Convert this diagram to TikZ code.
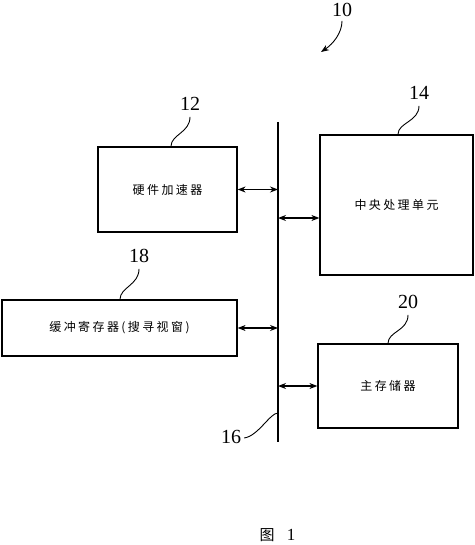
\documentclass[tikz,border=0pt]{standalone}
\usepackage{fontspec}
\setmainfont{Liberation Serif}
\newfontfamily\cjk[LetterSpace=20]{Noto Sans CJK SC}
\newfontfamily\cjkcap{Noto Sans CJK SC}
\usepackage{tikz}
\usetikzlibrary{arrows.meta,positioning}

\begin{document}
\begin{tikzpicture}[
    x=1pt, y=-1pt,
    unit/.style={draw, rectangle, line width=1.2pt, inner sep=0pt, font=\cjk\fontsize{12}{14}\selectfont},
    refnum/.style={inner sep=0pt, font=\fontsize{20}{22}\selectfont},
    leader/.style={line width=0.9pt},
    arrow/.style={{Stealth[length=8pt,width=6pt]}-{Stealth[length=8pt,width=6pt]}, line width=1.2pt},
    bus/.style={line width=1.2pt}
]
    \useasboundingbox (0,0) rectangle (474,545);

    % functional units
    \node[unit, minimum width=139pt, minimum height=85pt] (accel) at (167.5,189.5) {硬件加速器};
    \node[unit, minimum width=153pt, minimum height=140pt] (cpu) at (396.5,205) {中央处理单元};
    \node[unit, minimum width=235pt, minimum height=56pt] (buffer) at (119.5,328) {缓冲寄存器(搜寻视窗)};
    \node[unit, minimum width=140pt, minimum height=84pt] (mem) at (388,386) {主存储器};

    % system bus
    \coordinate (bustop) at (278,122);
    \coordinate (busbot) at (278,442);
    \draw[bus] (bustop) -- (busbot);

    \draw[arrow] (accel.east) -- (accel.east -| bustop);
    \draw[arrow] ([yshift=-13pt]cpu.west -| bustop) -- ([yshift=-13pt]cpu.west);
    \draw[arrow] (buffer.east) -- (buffer.east -| bustop);
    \draw[arrow] (mem.west -| bustop) -- (mem.west);

    % reference numerals
    \node[refnum] (n10) at (342,10) {10};
    \node[refnum] (n12) at (190,104) {12};
    \node[refnum] (n14) at (419,93) {14};
    \node[refnum] (n18) at (139,256) {18};
    \node[refnum] (n20) at (408,302) {20};
    \node[refnum] (n16) at (231,437) {16};

    \coordinate (sys) at (321,52);
    \coordinate (bustap) at (278,413);
    \draw[leader, -{Stealth[length=8pt,width=6pt]}] ([yshift=-4pt]n10.south) .. controls +(0,12) and +(12,-8) .. (sys);
    \draw[leader] ([yshift=-6pt]n12.south) .. controls +(0,16) and +(0,-12) .. ([xshift=3.5pt]accel.north);
    \draw[leader] ([yshift=-6pt]n14.south) .. controls +(0,16) and +(0,-12) .. ([xshift=1.5pt]cpu.north);
    \draw[leader] ([yshift=-6pt]n18.south) .. controls +(0,16) and +(0,-12) .. ([xshift=0.5pt]buffer.north);
    \draw[leader] ([yshift=-6pt]n20.south) .. controls +(0,16) and +(0,-12) .. ([xshift=0pt]mem.north);
    \draw[leader] ([xshift=3pt,yshift=-1pt]n16.east) .. controls +(14,-2) and +(-8,0) .. (bustap);

    % caption
    \node[inner sep=0pt, font=\cjkcap\fontsize{15}{17}\selectfont] (figchar) at (267,535) {图};
    \node[refnum, font=\fontsize{17}{19}\selectfont, right=12pt of figchar] (fignum) {1};
\end{tikzpicture}
\end{document}
